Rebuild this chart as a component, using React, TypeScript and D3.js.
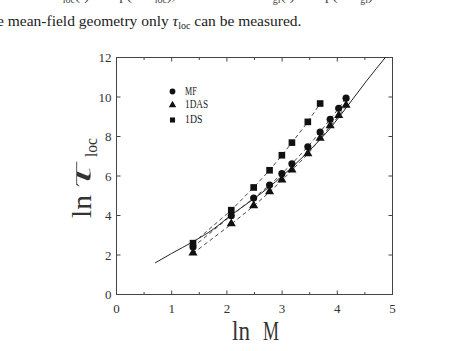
import React, { useEffect, useRef } from 'react';
import * as d3 from 'd3';

// ln M for M = 4, 8, 12, 16, 20, 24, 32, 40, 48, 56, 64
const lnM = [1.386, 2.079, 2.485, 2.773, 2.996, 3.178, 3.466, 3.689, 3.871, 4.025, 4.159];

const mfValues = [2.4, 3.99, 4.88, 5.54, 6.12, 6.62, 7.48, 8.23, 8.87, 9.43, 9.94];
const dasValues = [2.08, 3.56, 4.48, 5.19, 5.78, 6.29, 7.11, 7.89, 8.53, 9.04, 9.56];
const dsValues = [2.6, 4.27, 5.42, 6.29, 7.05, 7.69, 8.74, 9.67];

// solid fit curve
const fitX = [0.7, 1.0, 1.39, 1.75, 2.08, 2.49, 2.77, 3.0, 3.47, 3.69, 3.88, 4.03, 4.16, 4.54, 4.87];
const fitY = [1.6, 2.08, 2.68, 3.3, 4.03, 4.85, 5.45, 6.0, 7.22, 7.85, 8.45, 8.98, 9.45, 10.85, 12];

const xTicks = [0, 1, 2, 3, 4, 5];
const yTicks = [0, 2, 4, 6, 8, 10, 12];

const legendNames = ['MF', '1DAS', '1DS'];

const W = 474;
const H = 351;

export default function App() {
  const svgRef = useRef<SVGSVGElement>(null);

  useEffect(() => {
    if (!svgRef.current) return;
    const svg = d3.select(svgRef.current);
    svg.selectAll('*').remove();

    const left = 116.5, right = 392.5, top = 57.5, bottom = 294.5;
    const x = d3.scaleLinear().domain([0, 5]).range([left, right]);
    const y = d3.scaleLinear().domain([0, 12]).range([bottom, top]);
    const ink = '#222';
    const serif = '"Liberation Serif", "DejaVu Serif", serif';

    // text of the page above the figure (only its lower edge shows)
    const above = svg.append('text')
      .attr('x', 52).attr('y', 0)
      .style('font-family', serif).style('font-size', '15px').attr('fill', '#444');
    above.append('tspan').text('U');
    above.append('tspan').attr('dy', 3).style('font-size', '10px').text('loc');
    above.append('tspan').attr('dy', -3).text('(t) = exp(−t/τ');
    above.append('tspan').attr('dy', 3).style('font-size', '10px').text('loc');
    above.append('tspan').attr('dy', -3).text('),');
    above.append('tspan').attr('x', 262).text('U');
    above.append('tspan').attr('dy', 3).style('font-size', '10px').text('gl');
    above.append('tspan').attr('dy', -3).text('(t) = exp(−t/τ');
    above.append('tspan').attr('dy', 3).style('font-size', '10px').text('gl');
    above.append('tspan').attr('dy', -3).text(').');

    const line2 = svg.append('text')
      .attr('x', -3).attr('y', 26)
      .style('font-family', serif).style('font-size', '15.5px').attr('fill', '#222');
    line2.append('tspan').text('e mean-field geometry only ');
    line2.append('tspan').style('font-style', 'italic').text('τ');
    line2.append('tspan').attr('dy', 3).style('font-size', '10px').text('loc');
    line2.append('tspan').attr('dy', -3).text(' can be measured.');

    // frame
    svg.append('rect')
      .attr('x', left).attr('y', top)
      .attr('width', right - left).attr('height', bottom - top)
      .attr('fill', 'none').attr('stroke', '#444').attr('stroke-width', 1);

    // ticks point inward on all four sides
    d3.range(0, 5.01, 0.5).forEach(v => {
      const len = Number.isInteger(v) ? 4 : 2.5;
      svg.append('line').attr('x1', x(v)).attr('x2', x(v))
        .attr('y1', bottom).attr('y2', bottom - len).attr('stroke', '#444');
      svg.append('line').attr('x1', x(v)).attr('x2', x(v))
        .attr('y1', top).attr('y2', top + len).attr('stroke', '#444');
    });
    yTicks.forEach(v => {
      svg.append('line').attr('x1', left).attr('x2', left + 4)
        .attr('y1', y(v)).attr('y2', y(v)).attr('stroke', '#444');
      svg.append('line').attr('x1', right).attr('x2', right - 4)
        .attr('y1', y(v)).attr('y2', y(v)).attr('stroke', '#444');
    });

    xTicks.forEach(v => {
      svg.append('text').attr('x', x(v)).attr('y', bottom + 18)
        .attr('text-anchor', 'middle')
        .style('font-family', serif).style('font-size', '13px').attr('fill', '#333')
        .text(v);
    });
    yTicks.forEach(v => {
      svg.append('text').attr('x', left - 5).attr('y', y(v) + 4.5)
        .attr('text-anchor', 'end')
        .style('font-family', serif).style('font-size', '13px').attr('fill', '#333')
        .text(v);
    });

    // axis titles
    svg.append('text').attr('x', 232).attr('y', 340)
      .attr('textLength', 18).attr('lengthAdjust', 'spacingAndGlyphs')
      .style('font-family', serif).style('font-size', '28px').attr('fill', '#333')
      .text('ln');
    svg.append('text').attr('x', 263).attr('y', 340)
      .attr('textLength', 16).attr('lengthAdjust', 'spacingAndGlyphs')
      .style('font-family', serif).style('font-size', '28px').attr('fill', '#333')
      .text('M');

    svg.append('text')
      .attr('transform', 'translate(91,218) rotate(-90)')
      .attr('textLength', 23).attr('lengthAdjust', 'spacingAndGlyphs')
      .style('font-family', serif).style('font-size', '28px').attr('fill', '#333')
      .text('ln');
    svg.append('text')
      .attr('transform', 'translate(91,189) rotate(-90)')
      .attr('textLength', 26).attr('lengthAdjust', 'spacingAndGlyphs')
      .style('font-family', serif).style('font-style', 'italic').style('font-size', '32px')
      .attr('fill', '#333').attr('stroke', '#fff').attr('stroke-width', 0.5)
      .text('τ');
    svg.append('text')
      .attr('transform', 'translate(97,157) rotate(-90)')
      .attr('textLength', 19).attr('lengthAdjust', 'spacingAndGlyphs')
      .style('font-family', serif).style('font-size', '17px').attr('fill', '#333')
      .text('loc');

    // fit curve
    const fit = fitX.map((v, i) => [v, fitY[i]] as [number, number]);
    svg.append('path').datum(fit)
      .attr('d', d3.line().x(d => x(d[0])).y(d => y(d[1])).curve(d3.curveMonotoneX))
      .attr('fill', 'none').attr('stroke', ink).attr('stroke-width', 1);

    // dashed connectors
    const dashed = (vals: number[]) => {
      const pts = vals.map((v, i) => [lnM[i], v] as [number, number]);
      svg.append('path').datum(pts)
        .attr('d', d3.line().x(d => x(d[0])).y(d => y(d[1])))
        .attr('fill', 'none').attr('stroke', '#333').attr('stroke-width', 0.9)
        .attr('stroke-dasharray', '4,3');
    };
    dashed(mfValues);
    dashed(dasValues);
    dashed(dsValues);

    const circle = d3.symbol().type(d3.symbolCircle);
    const tri = d3.symbol().type(d3.symbolTriangle);
    const sq = d3.symbol().type(d3.symbolSquare);

    const markers = (vals: number[], gen: d3.Symbol<any, any>, size: number, dy = 0) => {
      vals.forEach((v, i) => {
        svg.append('path')
          .attr('transform', `translate(${x(lnM[i])},${y(v) + dy})`)
          .attr('d', gen.size(size)())
          .attr('fill', '#111');
      });
    };
    markers(mfValues, circle, 40);
    markers(dasValues, tri, 36, -0.5);
    markers(dsValues, sq, 44);

    // legend
    const gens = [circle, tri, sq];
    const sizes = [26, 24, 26];
    const rowY = [91.5, 105, 120];
    legendNames.forEach((name, i) => {
      svg.append('path')
        .attr('transform', `translate(172.5,${rowY[i]})`)
        .attr('d', gens[i].size(sizes[i])())
        .attr('fill', '#111');
      svg.append('text').attr('x', 185).attr('y', rowY[i] + 3)
        .attr('textLength', name.length * 5.8).attr('lengthAdjust', 'spacingAndGlyphs')
        .style('font-family', serif).style('font-size', '12.5px').attr('fill', '#222')
        .text(name);
    });
  }, []);

  return (
    <div style={{ position: 'absolute', left: 0, top: 0, width: W, height: H, background: '#fff' }}>
      <svg ref={svgRef} width={W} height={H} style={{ display: 'block' }}></svg>
    </div>
  );
}
